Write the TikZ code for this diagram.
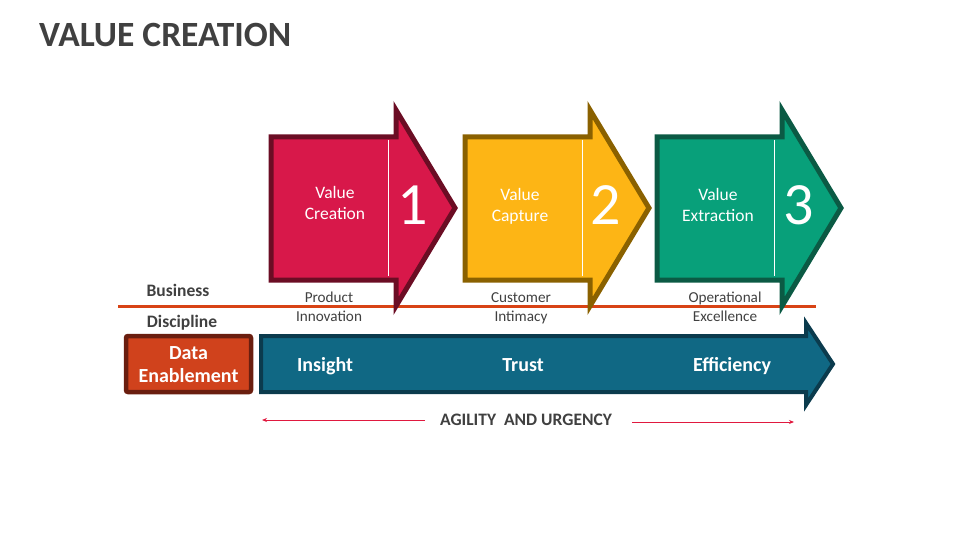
\documentclass[tikz,border=0pt]{standalone}
\usepackage{fontspec}
\setmainfont{Carlito}
\usetikzlibrary{arrows.meta}
\definecolor{crim}{HTML}{D8184A}
\definecolor{crimB}{HTML}{6B0D24}
\definecolor{yel}{HTML}{FDB515}
\definecolor{yelB}{HTML}{8A6100}
\definecolor{grn}{HTML}{08A07A}
\definecolor{grnB}{HTML}{0B5A44}
\definecolor{teal}{HTML}{106884}
\definecolor{tealB}{HTML}{0B3B4D}
\definecolor{dataF}{HTML}{D0421C}
\definecolor{dataB}{HTML}{6A1E0F}
\definecolor{lineO}{HTML}{D84315}
\definecolor{agil}{HTML}{E0193F}
\definecolor{txt}{HTML}{404040}
\tikzset{
  bigarrow/.style={line width=5pt, line join=miter, miter limit=10},
  boxlabel/.style={text=white, font=\fontsize{17.5}{21}\selectfont, align=center, inner sep=0},
  numlabel/.style={text=white, font=\fontsize{60}{60}\selectfont},
  sublabel/.style={text=txt, font=\fontsize{15.2}{19}\selectfont, align=center, inner sep=0},
  sidelabel/.style={text=txt, font=\bfseries\fontsize{17.5}{20}\selectfont},
  barlabel/.style={text=white, font=\bfseries\fontsize{20}{24}\selectfont},
}
\begin{document}
\begin{tikzpicture}[x=1pt,y=-1pt]
\useasboundingbox (0,0) rectangle (960,540);
% title
\node[anchor=west, text=txt, font=\bfseries\fontsize{35.5}{40}\selectfont, inner sep=0] (title) at (39,35) {VALUE CREATION};

% orange discipline line
\coordinate (lnL) at (118,306);
\coordinate (lnR) at (816,306);
\draw[lineO, line width=3pt] (lnL) -- (lnR);

% three chevron arrows
\foreach \x/\f/\b/\n in {0/crim/crimB/1, 194/yel/yelB/2, 386/grn/grnB/3}{
  \begin{scope}[xshift=\x]
    \draw[bigarrow, draw=\b, fill=\f] (271,137) -- (396,137) -- (396,110) -- (455,208)
      -- (396,306) -- (396,280) -- (271,280) -- cycle;
    \draw[white, line width=0.8pt] (388,140) -- (388,276);
  \end{scope}
}
\node[boxlabel] (t1) at (335,205) {\strut Value\\\strut Creation};
\node[numlabel] (n1) at (413,205) {1};
\node[boxlabel] (t2) at (520,206.5) {\strut Value\\\strut Capture};
\node[numlabel] (n2) at (606,205) {2};
\node[boxlabel] (t3) at (718,206.5) {\strut Value\\\strut Extraction};
\node[numlabel] (n3) at (799,205) {3};

\node[sublabel] (s1) at (329,308) {\strut Product\\\strut Innovation};
\node[sublabel] (s2) at (521,308) {\strut Customer\\\strut Intimacy};
\node[sublabel] (s3) at (725,308) {\strut Operational\\\strut Excellence};

\node[sidelabel] (bus) at (178,290) {Business};
\node[sidelabel] (dis) at (182,322.5) {Discipline};

% data enablement box
\node[draw=dataB, fill=dataF, line width=4.5pt, rounded corners=2pt, minimum width=125pt, minimum height=56pt,
  text=white, font=\bfseries\fontsize{20}{23}\selectfont, align=center, inner sep=0] (data) at (188.5,364) {};
\node[text=white, font=\bfseries\fontsize{20}{23}\selectfont, align=center, inner sep=0] (datatext) at (188.5,366.5) {\strut Data\\\strut Enablement};

% teal bar arrow
\draw[line width=4pt, line join=miter, draw=tealB, fill=teal] (261,336) -- (806,336) -- (806,323) -- (833,364)
  -- (806,405) -- (806,392) -- (261,392) -- cycle;
\node[barlabel] (b1) at (325,366) {Insight};
\node[barlabel] (b2) at (523,365) {Trust};
\node[barlabel] (b3) at (732,366) {Efficiency};

% agility
\node[text=txt, font=\bfseries\fontsize{17.5}{20}\selectfont] (ag) at (526,420) {AGILITY\ \ AND URGENCY};
\coordinate (agL) at (262,420);
\coordinate (agR) at (794,422);
\coordinate (agLs) at (425,420);
\coordinate (agRs) at (632,422);
\draw[agil, line width=0.8pt, -{Stealth[length=5pt,width=4pt]}] (agLs) -- (agL);
\draw[agil, line width=0.8pt, -{Stealth[length=5pt,width=4pt]}] (agRs) -- (agR);
\end{tikzpicture}
\end{document}
